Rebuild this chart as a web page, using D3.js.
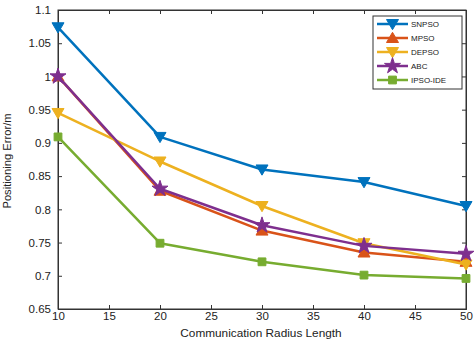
<!DOCTYPE html>
<html><head><meta charset="utf-8">
<script src="https://cdn.jsdelivr.net/npm/d3@7"></script>
<style>body{margin:0;background:#fff}svg{display:block}text{font-family:Arial,"Liberation Sans",sans-serif}</style>
</head><body><svg id="c" width="474" height="341"></svg>
<script>
const radius = [10, 20, 30, 40, 50];
const seriesNames = ["SNPSO", "MPSO", "DEPSO", "ABC", "IPSO-IDE"];
const snpso = [1.074, 0.909, 0.860, 0.841, 0.805];
const mpso = [1.000, 0.828, 0.768, 0.735, 0.721];
const depso = [0.945, 0.872, 0.805, 0.749, 0.717];
const abc = [1.000, 0.831, 0.776, 0.745, 0.733];
const ipsoide = [0.909, 0.749, 0.721, 0.701, 0.696];
const xTicks = [10, 15, 20, 25, 30, 35, 40, 45, 50];
const yTicks = [0.65, 0.7, 0.75, 0.8, 0.85, 0.9, 0.95, 1, 1.05, 1.1];
const colors = ["#0072BD", "#D95319", "#EDB120", "#7E2F8E", "#77AC30"];
const symbols = ["tri-down", "tri-up", "tri-down", "star", "square"];
const values = [snpso, mpso, depso, abc, ipsoide];

const L = 58, R = 466, T = 10, B = 309;
const svg = d3.select("#c");
const x = d3.scaleLinear().domain([10, 50]).range([L, R]);
const y = d3.scaleLinear().domain([0.65, 1.1]).range([B, T]);
const axisColor = "#333";

svg.append("rect").attr("x", L).attr("y", T).attr("width", R - L).attr("height", B - T)
  .attr("fill", "none").attr("stroke", axisColor).attr("stroke-width", 1);

const gx = svg.append("g").attr("transform", `translate(0,${B})`)
  .call(d3.axisBottom(x).tickValues(xTicks).tickSize(-4).tickPadding(3).tickFormat(d3.format("d")));
const gxt = svg.append("g").attr("transform", `translate(0,${T})`)
  .call(d3.axisTop(x).tickValues(xTicks).tickSize(-4).tickFormat(""));
const gy = svg.append("g").attr("transform", `translate(${L},0)`)
  .call(d3.axisLeft(y).tickValues(yTicks).tickSize(-4).tickPadding(7).tickFormat(d => String(+d.toFixed(2))));
const gyr = svg.append("g").attr("transform", `translate(${R},0)`)
  .call(d3.axisRight(y).tickValues(yTicks).tickSize(-4).tickFormat(""));
[gx, gxt, gy, gyr].forEach(g => {
  g.select(".domain").attr("stroke", axisColor);
  g.selectAll(".tick line").attr("stroke", axisColor);
  g.selectAll("text").attr("fill", "#222").style("font-size", "11.5px");
});

function symPath(t, s) {
  if (t === "tri-down") return `M${-s},${-s * 0.75}L${s},${-s * 0.75}L0,${s * 0.95}Z`;
  if (t === "tri-up") return `M${-s},${s * 0.75}L${s},${s * 0.75}L0,${-s * 0.95}Z`;
  if (t === "square") return `M${-s * 0.65},${-s * 0.65}H${s * 0.65}V${s * 0.65}H${-s * 0.65}Z`;
  return d3.symbol().type(d3.symbolStar).size(s * s * 2.2)();
}

const line = d3.line().x((d, i) => x(radius[i])).y(d => y(d));
values.forEach((vals, k) => {
  const g = svg.append("g");
  g.append("path").datum(vals).attr("d", line).attr("fill", "none")
    .attr("stroke", colors[k]).attr("stroke-width", 2.5).attr("stroke-linejoin", "round");
  g.selectAll("path.m").data(vals).enter().append("path").attr("class", "m")
    .attr("transform", (d, i) => `translate(${x(radius[i])},${y(d)})`)
    .attr("d", symPath(symbols[k], 6))
    .attr("fill", colors[k]).attr("stroke", colors[k]).attr("stroke-width", 1);
});

const lg = svg.append("g");
lg.append("rect").attr("x", 373).attr("y", 16).attr("width", 89).attr("height", 73)
  .attr("fill", "#fff").attr("stroke", axisColor).attr("stroke-width", 1);
seriesNames.forEach((n, k) => {
  const yy = 24 + k * 14;
  lg.append("line").attr("x1", 377).attr("x2", 408).attr("y1", yy).attr("y2", yy)
    .attr("stroke", colors[k]).attr("stroke-width", 2.5);
  lg.append("path").attr("transform", `translate(392.5,${yy})`).attr("d", symPath(symbols[k], 6))
    .attr("fill", colors[k]).attr("stroke", colors[k]);
  lg.append("text").attr("x", 411).attr("y", yy).attr("dy", "0.35em")
    .style("font-size", "8px").attr("fill", "#222").text(n);
});

svg.append("text").attr("x", 261).attr("y", 337).attr("text-anchor", "middle")
  .style("font-size", "11.8px").attr("fill", "#222").text("Communication Radius Length");
svg.append("text").attr("transform", `translate(10.5,161) rotate(-90)`)
  .attr("text-anchor", "middle").style("font-size", "11.2px").attr("fill", "#222").text("Positioning Error/m");
</script></body></html>
